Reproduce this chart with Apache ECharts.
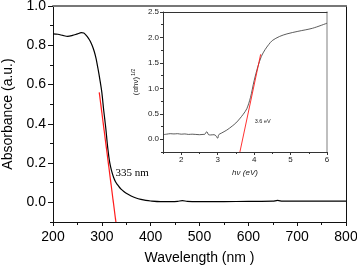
<!DOCTYPE html>
<html><head><meta charset="utf-8">
<script src="https://cdn.jsdelivr.net/npm/echarts@6/dist/echarts.min.js"></script>
<style>html,body{margin:0;padding:0;background:#fff}#c{width:357px;height:266px}</style>
</head><body><div id="c"></div>
<script>
// Main absorbance spectrum
var wavelength = [200,210,220,230,240,250,258,263,268,272,276,280,284,288,292,296,300,304,308,312,316,320,324,328,332,336,340,345,350,360,370,380,390,400,420,440,455,465,475,500,550,600,650,660,670,700,750,800];
var absorbance = [0.858,0.856,0.850,0.845,0.850,0.858,0.864,0.862,0.850,0.838,0.822,0.800,0.772,0.735,0.683,0.625,0.560,0.465,0.380,0.280,0.205,0.160,0.128,0.105,0.090,0.077,0.066,0.055,0.046,0.032,0.022,0.015,0.010,0.007,0.004,0.004,0.005,0.009,0.005,0.004,0.004,0.005,0.006,0.010,0.006,0.006,0.006,0.006];
var tangentWl = [294.7, 328.8];
var tangentAbs = [0.56, -0.1];
// Inset Tauc plot
var hv = [1.5,1.6,1.7,1.8,1.9,2.0,2.1,2.2,2.3,2.4,2.5,2.6,2.65,2.7,2.75,2.8,2.9,2.95,3.0,3.03,3.1,3.25,3.4,3.5,3.6,3.7,3.8,3.9,4.0,4.1,4.2,4.3,4.4,4.5,4.7,4.9,5.2,5.6,6.0];
var tauc = [0.09,0.10,0.11,0.105,0.11,0.10,0.105,0.095,0.10,0.095,0.09,0.095,0.10,0.15,0.09,0.085,0.09,0.07,0.02,0.09,0.12,0.18,0.26,0.32,0.40,0.49,0.60,0.82,1.15,1.42,1.63,1.76,1.86,1.94,2.02,2.07,2.12,2.18,2.28];
var taucFitHv = [3.61, 4.18];
var taucFitY = [-0.25, 1.67];
// Tick labels
var mainYTicks = [0,0.2,0.4,0.6,0.8,1.0];
var mainYMinor = [-0.1,0.1,0.3,0.5,0.7,0.9];
var insetXTicks = [2,3,4,5,6];
var insetXMinor = [1.5,2.5,3.5,4.5,5.5];
var insetYTicks = [0,0.5,1.0,1.5,2.0,2.5];
var insetYMinor = [-0.25,0.25,0.75,1.25,1.75,2.25];

function zip(a,b){return a.map(function(v,i){return [v,b[i]];});}
var F = "'Liberation Sans', Arial, sans-serif";
var dark = '#111', inDark='#333';
var chart = echarts.init(document.getElementById('c'));
chart.setOption({
  animation:false,
  grid:[
    {left:53, top:6, width:293, height:216, outerBoundsMode:'none', containLabel:false},
    {left:163, top:12, width:164, height:140, outerBoundsMode:'none', containLabel:false}
  ],
  xAxis:[
    {gridIndex:0, type:'value', min:200, max:800, interval:100, position:'bottom',
     axisLine:{onZero:false, lineStyle:{color:dark,width:1}},
     axisTick:{length:4, lineStyle:{color:dark}},
     minorTick:{show:true, splitNumber:2, length:3, lineStyle:{color:dark}},
     axisLabel:{fontFamily:F, fontSize:14, color:'#000', margin:8},
     splitLine:{show:false},
     name:'Wavelength (nm )', nameLocation:'middle', nameGap:29,
     nameTextStyle:{fontFamily:F, fontSize:14, color:'#000'}},
    {gridIndex:0, type:'value', min:200, max:800, position:'top',
     axisLine:{onZero:false, lineStyle:{color:'#777',width:2}},
     axisTick:{show:false}, axisLabel:{show:false}, splitLine:{show:false}},
    {gridIndex:1, type:'value', min:1.5, max:6, position:'bottom',
     axisLine:{onZero:false, lineStyle:{color:inDark,width:1}},
     axisTick:{customValues:insetXTicks, length:3, lineStyle:{color:inDark}},
     axisLabel:{customValues:insetXTicks, fontFamily:F, fontSize:8, color:'#222', margin:4},
     splitLine:{show:false},
     name:'{i|hν} {i|(eV)}', nameLocation:'middle', nameGap:15,
     nameTextStyle:{fontFamily:F, fontSize:8, color:'#222', rich:{i:{fontFamily:F,fontSize:8,fontStyle:'italic',color:'#222'}}}},
    {gridIndex:1, type:'value', min:1.5, max:6, position:'bottom',
     axisLine:{show:false, onZero:false},
     axisTick:{customValues:insetXMinor, length:2, lineStyle:{color:inDark}},
     axisLabel:{show:false}, splitLine:{show:false}},
    {gridIndex:1, type:'value', min:1.5, max:6, position:'top',
     axisLine:{onZero:false, lineStyle:{color:inDark,width:1}},
     axisTick:{show:false}, axisLabel:{show:false}, splitLine:{show:false}}
  ],
  yAxis:[
    {gridIndex:0, type:'value', min:-0.1, max:1.0, position:'left',
     axisLine:{show:true, onZero:false, lineStyle:{color:dark,width:1}},
     axisTick:{show:true, customValues:mainYTicks, length:5, lineStyle:{color:dark}},
     axisLabel:{customValues:mainYTicks, fontFamily:F, fontSize:14, color:'#000', margin:7,
       formatter:function(v){return v.toFixed(1);}},
     splitLine:{show:false},
     name:'Absorbance (a.u.)', nameLocation:'middle', nameGap:36,
     nameTextStyle:{fontFamily:F, fontSize:14, color:'#000'}},
    {gridIndex:0, type:'value', min:-0.1, max:1.0, position:'left',
     axisLine:{show:false, onZero:false},
     axisTick:{show:true, customValues:mainYMinor, length:3, lineStyle:{color:dark}},
     axisLabel:{show:false}, splitLine:{show:false}},
    {gridIndex:0, type:'value', min:-0.1, max:1.0, position:'right',
     axisLine:{show:true, onZero:false, lineStyle:{color:dark,width:1}},
     axisTick:{show:false}, axisLabel:{show:false}, splitLine:{show:false}},
    {gridIndex:1, type:'value', min:-0.25, max:2.5, position:'left',
     axisLine:{show:true, onZero:false, lineStyle:{color:inDark,width:1}},
     axisTick:{show:true, customValues:insetYTicks, length:3, lineStyle:{color:inDark}},
     axisLabel:{customValues:insetYTicks, fontFamily:F, fontSize:8, color:'#222', margin:4,
       formatter:function(v){return v.toFixed(1);}},
     splitLine:{show:false},
     name:'(αhν){s|1/2}', nameLocation:'middle', nameGap:22,
     nameTextStyle:{fontFamily:F, fontSize:8, color:'#222', rich:{s:{fontFamily:F,fontSize:5,color:'#222',padding:[0,0,5,1]}}}},
    {gridIndex:1, type:'value', min:-0.25, max:2.5, position:'left',
     axisLine:{show:false, onZero:false},
     axisTick:{show:true, customValues:insetYMinor, length:2, lineStyle:{color:inDark}},
     axisLabel:{show:false}, splitLine:{show:false}},
    {gridIndex:1, type:'value', min:-0.25, max:2.5, position:'right',
     axisLine:{show:true, onZero:false, lineStyle:{color:'#aaa',width:1.5}},
     axisTick:{show:false}, axisLabel:{show:false}, splitLine:{show:false}}
  ],
  series:[
    {type:'line', xAxisIndex:0, yAxisIndex:0, data:zip(wavelength,absorbance), smooth:0.3,
     showSymbol:false, lineStyle:{color:'#000', width:1.2}, z:3},
    {type:'line', xAxisIndex:0, yAxisIndex:0, data:zip(tangentWl,tangentAbs),
     showSymbol:false, lineStyle:{color:'#ff1a1a', width:1.2}, z:4,
     markPoint:{symbol:'circle', symbolSize:0, silent:true,
       label:{show:true, formatter:'335 nm', fontFamily:"'Liberation Serif','Times New Roman',serif", fontSize:11, color:'#000', position:'right', offset:[0,0]},
       data:[{coord:[318,0.15]}]}},
    {type:'line', xAxisIndex:2, yAxisIndex:3, data:zip(hv,tauc), smooth:0.3,
     showSymbol:false, lineStyle:{color:'#333', width:0.8}, z:3},
    {type:'line', xAxisIndex:2, yAxisIndex:3, data:zip(taucFitHv,taucFitY),
     showSymbol:false, lineStyle:{color:'#ff1a1a', width:0.9}, z:4,
     markPoint:{symbol:'circle', symbolSize:0, silent:true,
       label:{show:true, formatter:'3.6 eV', fontFamily:F, fontSize:5.5, color:'#222', position:'right'},
       data:[{coord:[3.88,0.35]}]}}
  ]
});
</script></body></html>
